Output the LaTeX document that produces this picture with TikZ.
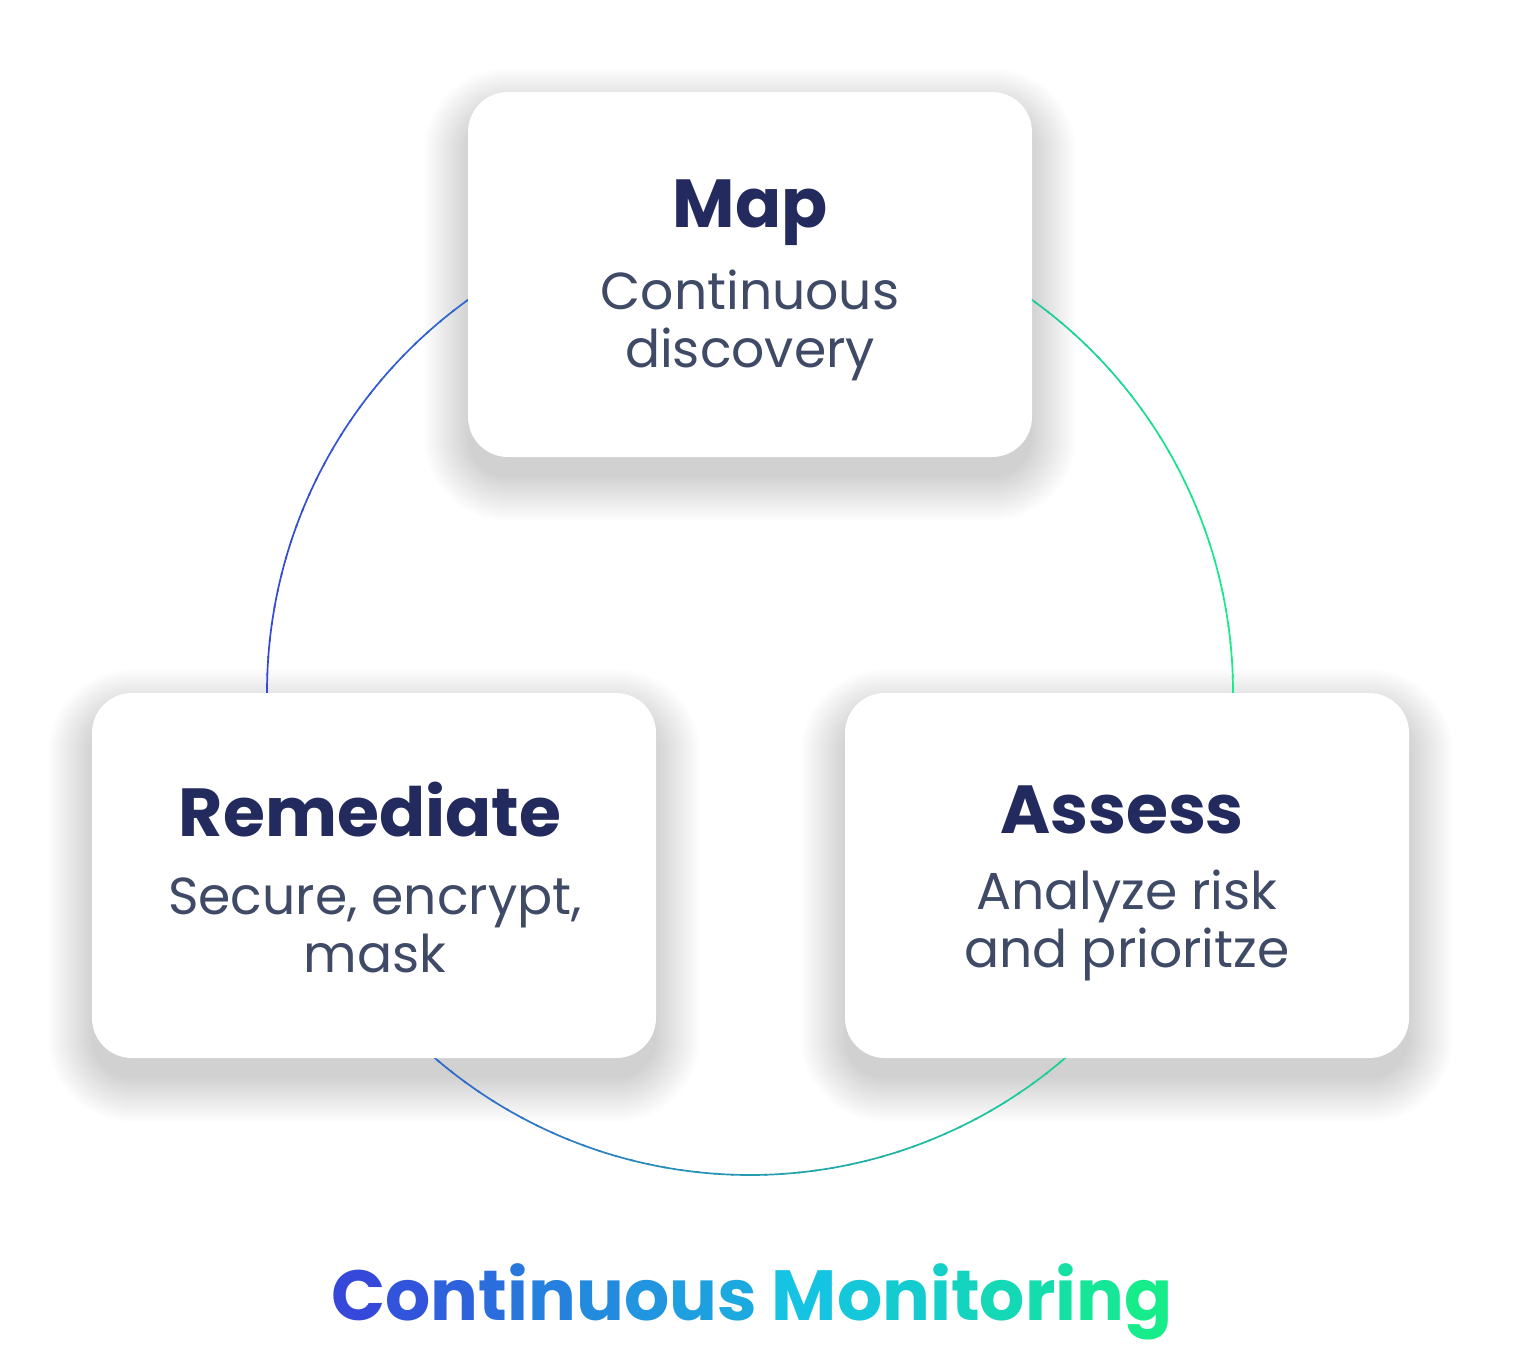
\documentclass[tikz,border=0pt]{standalone}
\usepackage{fontspec}
\setmainfont{Poppins}
\definecolor{cblue}{HTML}{3548DA}
\definecolor{ccyan}{HTML}{14C4E2}
\definecolor{cgreen}{HTML}{16EC8A}
\definecolor{navy}{HTML}{232A5E}
\definecolor{slate}{HTML}{3E4A66}
\definecolor{shd}{HTML}{1E2A50}
\tikzset{
  box/.style={draw=none,fill=white,rounded corners=40pt,minimum width=564pt,minimum height=365pt},
  head/.style={text=navy,font=\fontsize{68}{72}\selectfont\bfseries},
  sub/.style={text=slate,font=\fontsize{52}{58}\selectfont,align=center},
}
\newcommand\mysoftshadow[2]{%
  \foreach \k in {0,2,...,44}{
    \fill[shd,opacity=0.0065,rounded corners=40pt+\k pt]
      (#1-282-\k,#2-182.5-\k+20) rectangle (#1+282+\k,#2+182.5+\k+20);
  }}
\begin{document}
\begin{tikzpicture}[x=1pt,y=-1pt]
\useasboundingbox[fill=white] (0,0) rectangle (1536,1349);
\mysoftshadow{750}{274.5}
\mysoftshadow{374}{875.5}
\mysoftshadow{1127}{875.5}
\foreach \a in {0,2,...,358}{
  \pgfmathsetmacro\t{50+50*cos(\a)}
  \draw[line width=1.7pt,color=cgreen!\t!cblue] ([shift={(750,692)}]\a:483) arc[start angle=\a,end angle=\a+2.3,radius=483];
}
\node[box] (map) at (750,274.5) {};
\node[box] (rem) at (374,875.5) {};
\node[box] (ass) at (1127,875.5) {};
\node[head] (mapt) at (750,213) {Map};
\node[sub] (maps) at (750,325) {Continuous\\discovery};
\node[head] (remt) at (370,810) {Remediate};
\node[sub] (rems) at (375,925) {Secure, encrypt,\\mask};
\node[head] (asst) at (1122,810) {Assess};
\node[sub] (asss) at (1127,925) {Analyze risk\\and prioritze};
\node[font=\fontsize{71}{76}\selectfont\bfseries] (title) at (752,1302) {%
\textcolor{cblue}{C}\textcolor{cblue!90!ccyan}{o}\textcolor{cblue!80!ccyan}{n}\textcolor{cblue!70!ccyan}{t}\textcolor{cblue!62!ccyan}{i}\textcolor{cblue!54!ccyan}{n}\textcolor{cblue!46!ccyan}{u}\textcolor{cblue!38!ccyan}{o}\textcolor{cblue!30!ccyan}{u}\textcolor{cblue!22!ccyan}{s} %
\textcolor{ccyan}{M}\textcolor{ccyan!90!cgreen}{o}\textcolor{ccyan!80!cgreen}{n}\textcolor{ccyan!70!cgreen}{i}\textcolor{ccyan!60!cgreen}{t}\textcolor{ccyan!50!cgreen}{o}\textcolor{ccyan!40!cgreen}{r}\textcolor{ccyan!30!cgreen}{i}\textcolor{ccyan!15!cgreen}{n}\textcolor{cgreen}{g}};
\end{tikzpicture}
\end{document}
